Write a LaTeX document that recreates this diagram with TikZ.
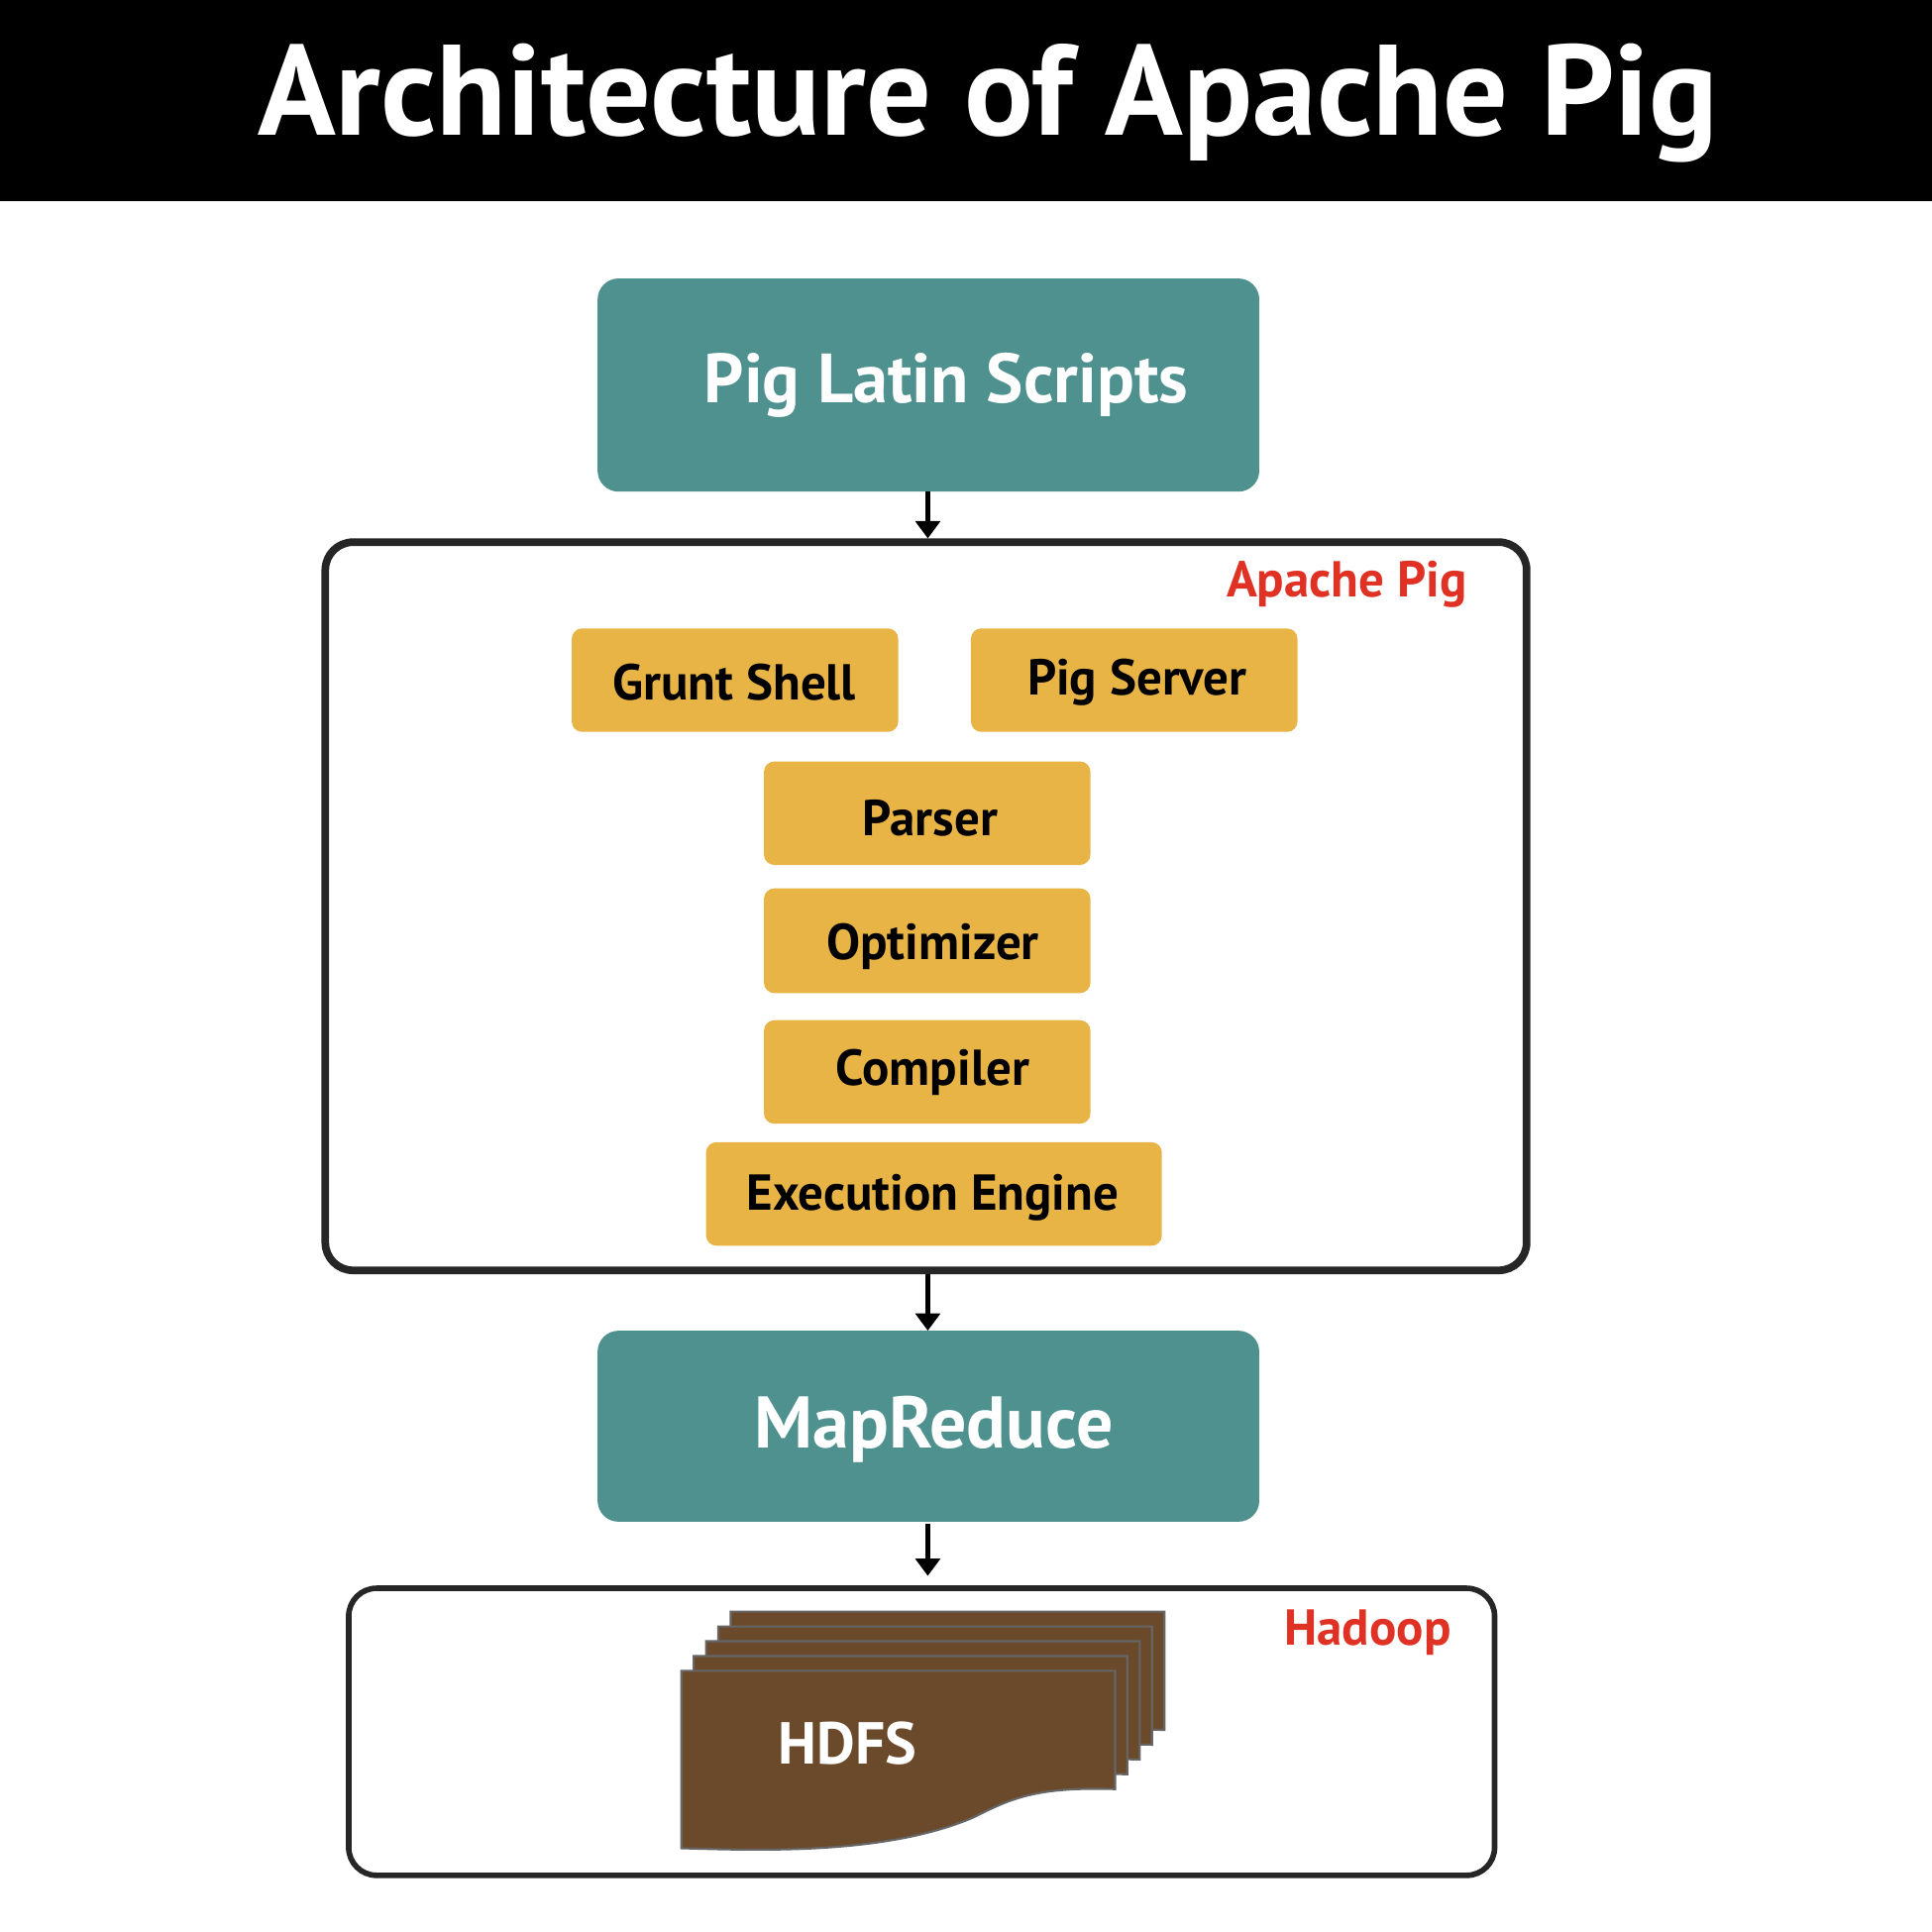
\documentclass[tikz,border=0pt]{standalone}
\usepackage{fontspec}
\setmainfont{PT Sans}
\usetikzlibrary{arrows.meta}
\definecolor{teal1}{HTML}{4E918E}
\definecolor{gold1}{HTML}{E8B445}
\definecolor{brown1}{HTML}{6B4A2B}
\definecolor{red1}{HTML}{E03224}
\begin{document}
\begin{tikzpicture}[x=0.012436cm,y=-0.012436cm,
 gold/.style={font=\fontsize{14.5}{17}\selectfont\bfseries},
 frame/.style={draw=black!85,rounded corners=8pt},
 arr/.style={-{Triangle[width=7pt,length=5pt]},line width=1.4pt},
 lbl/.style={text=red1,font=\fontsize{14.5}{18}\selectfont\bfseries}]
\useasboundingbox (0,0) rectangle (1568,1568);
\fill[white] (0,0) rectangle (1568,1568);
\fill[black] (0,0) rectangle (1568,163);
\node[text=white,font=\fontsize{37}{44}\selectfont\bfseries] (title) at (802,84) {Architecture of Apache Pig};
% Pig Latin Scripts
\fill[teal1,rounded corners=6pt] (485,226) rectangle (1022,399);
\node[text=white,font=\fontsize{20}{24}\selectfont\bfseries] (pls) at (768,313) {Pig Latin Scripts};
\coordinate (plsb) at (753,399);
% Apache Pig frame
\draw[frame,line width=2.2pt] (264,440) rectangle (1239,1031);
\coordinate (apt) at (753,437);
\coordinate (apb) at (753,1034);
\node[lbl] (apl) at (1093,474) {Apache Pig};
\fill[gold1,rounded corners=3pt] (464,510) rectangle (729,594);
\node[gold] (gs) at (596,554) {Grunt Shell};
\fill[gold1,rounded corners=3pt] (788,510) rectangle (1053,594);
\node[gold] (ps) at (923,554) {Pig Server};
\fill[gold1,rounded corners=3pt] (620,618) rectangle (885,702);
\node[gold] (pa) at (755,664) {Parser};
\fill[gold1,rounded corners=3pt] (620,721) rectangle (885,806);
\node[gold] (op) at (757,768) {Optimizer};
\fill[gold1,rounded corners=3pt] (620,828) rectangle (885,912);
\node[gold] (co) at (757,870) {Compiler};
\fill[gold1,rounded corners=3pt] (573,927) rectangle (943,1011);
\node[gold] (ee) at (757,972) {Execution Engine};
% MapReduce
\fill[teal1,rounded corners=6pt] (485,1080) rectangle (1022,1235);
\node[text=white,font=\fontsize{21}{25}\selectfont\bfseries] (mr) at (758,1160) {MapReduce};
\coordinate (mrt) at (753,1080);
\coordinate (mrb) at (753,1237);
% Hadoop frame
\draw[frame,line width=1.6pt] (283,1289) rectangle (1213,1522);
\coordinate (hdt) at (753,1279);
\node[lbl] (hl) at (1110,1325) {Hadoop};
% HDFS stack
\foreach \i in {4,3,2,1} {
  \fill[brown1,draw=black!60,line width=0.6pt,shift={(\i*10,-\i*12)}]
   (553,1356) -- (905,1356) -- (905,1452) .. controls (840,1450) and (820,1460) .. (790,1475)
   .. controls (720,1505) and (620,1502) .. (553,1500) -- cycle;
}
\fill[brown1,draw=black!60,line width=0.6pt]
   (553,1356) -- (905,1356) -- (905,1452) .. controls (840,1450) and (820,1460) .. (790,1475)
   .. controls (720,1505) and (620,1502) .. (553,1500) -- cycle;
\node[text=white,font=\fontsize{17}{20}\selectfont\bfseries] (hdfs) at (688,1415) {HDFS};
% arrows
\draw[arr] (plsb) -- (apt);
\draw[arr] (apb) -- (mrt);
\draw[arr] (mrb) -- (hdt);
\end{tikzpicture}
\end{document}
